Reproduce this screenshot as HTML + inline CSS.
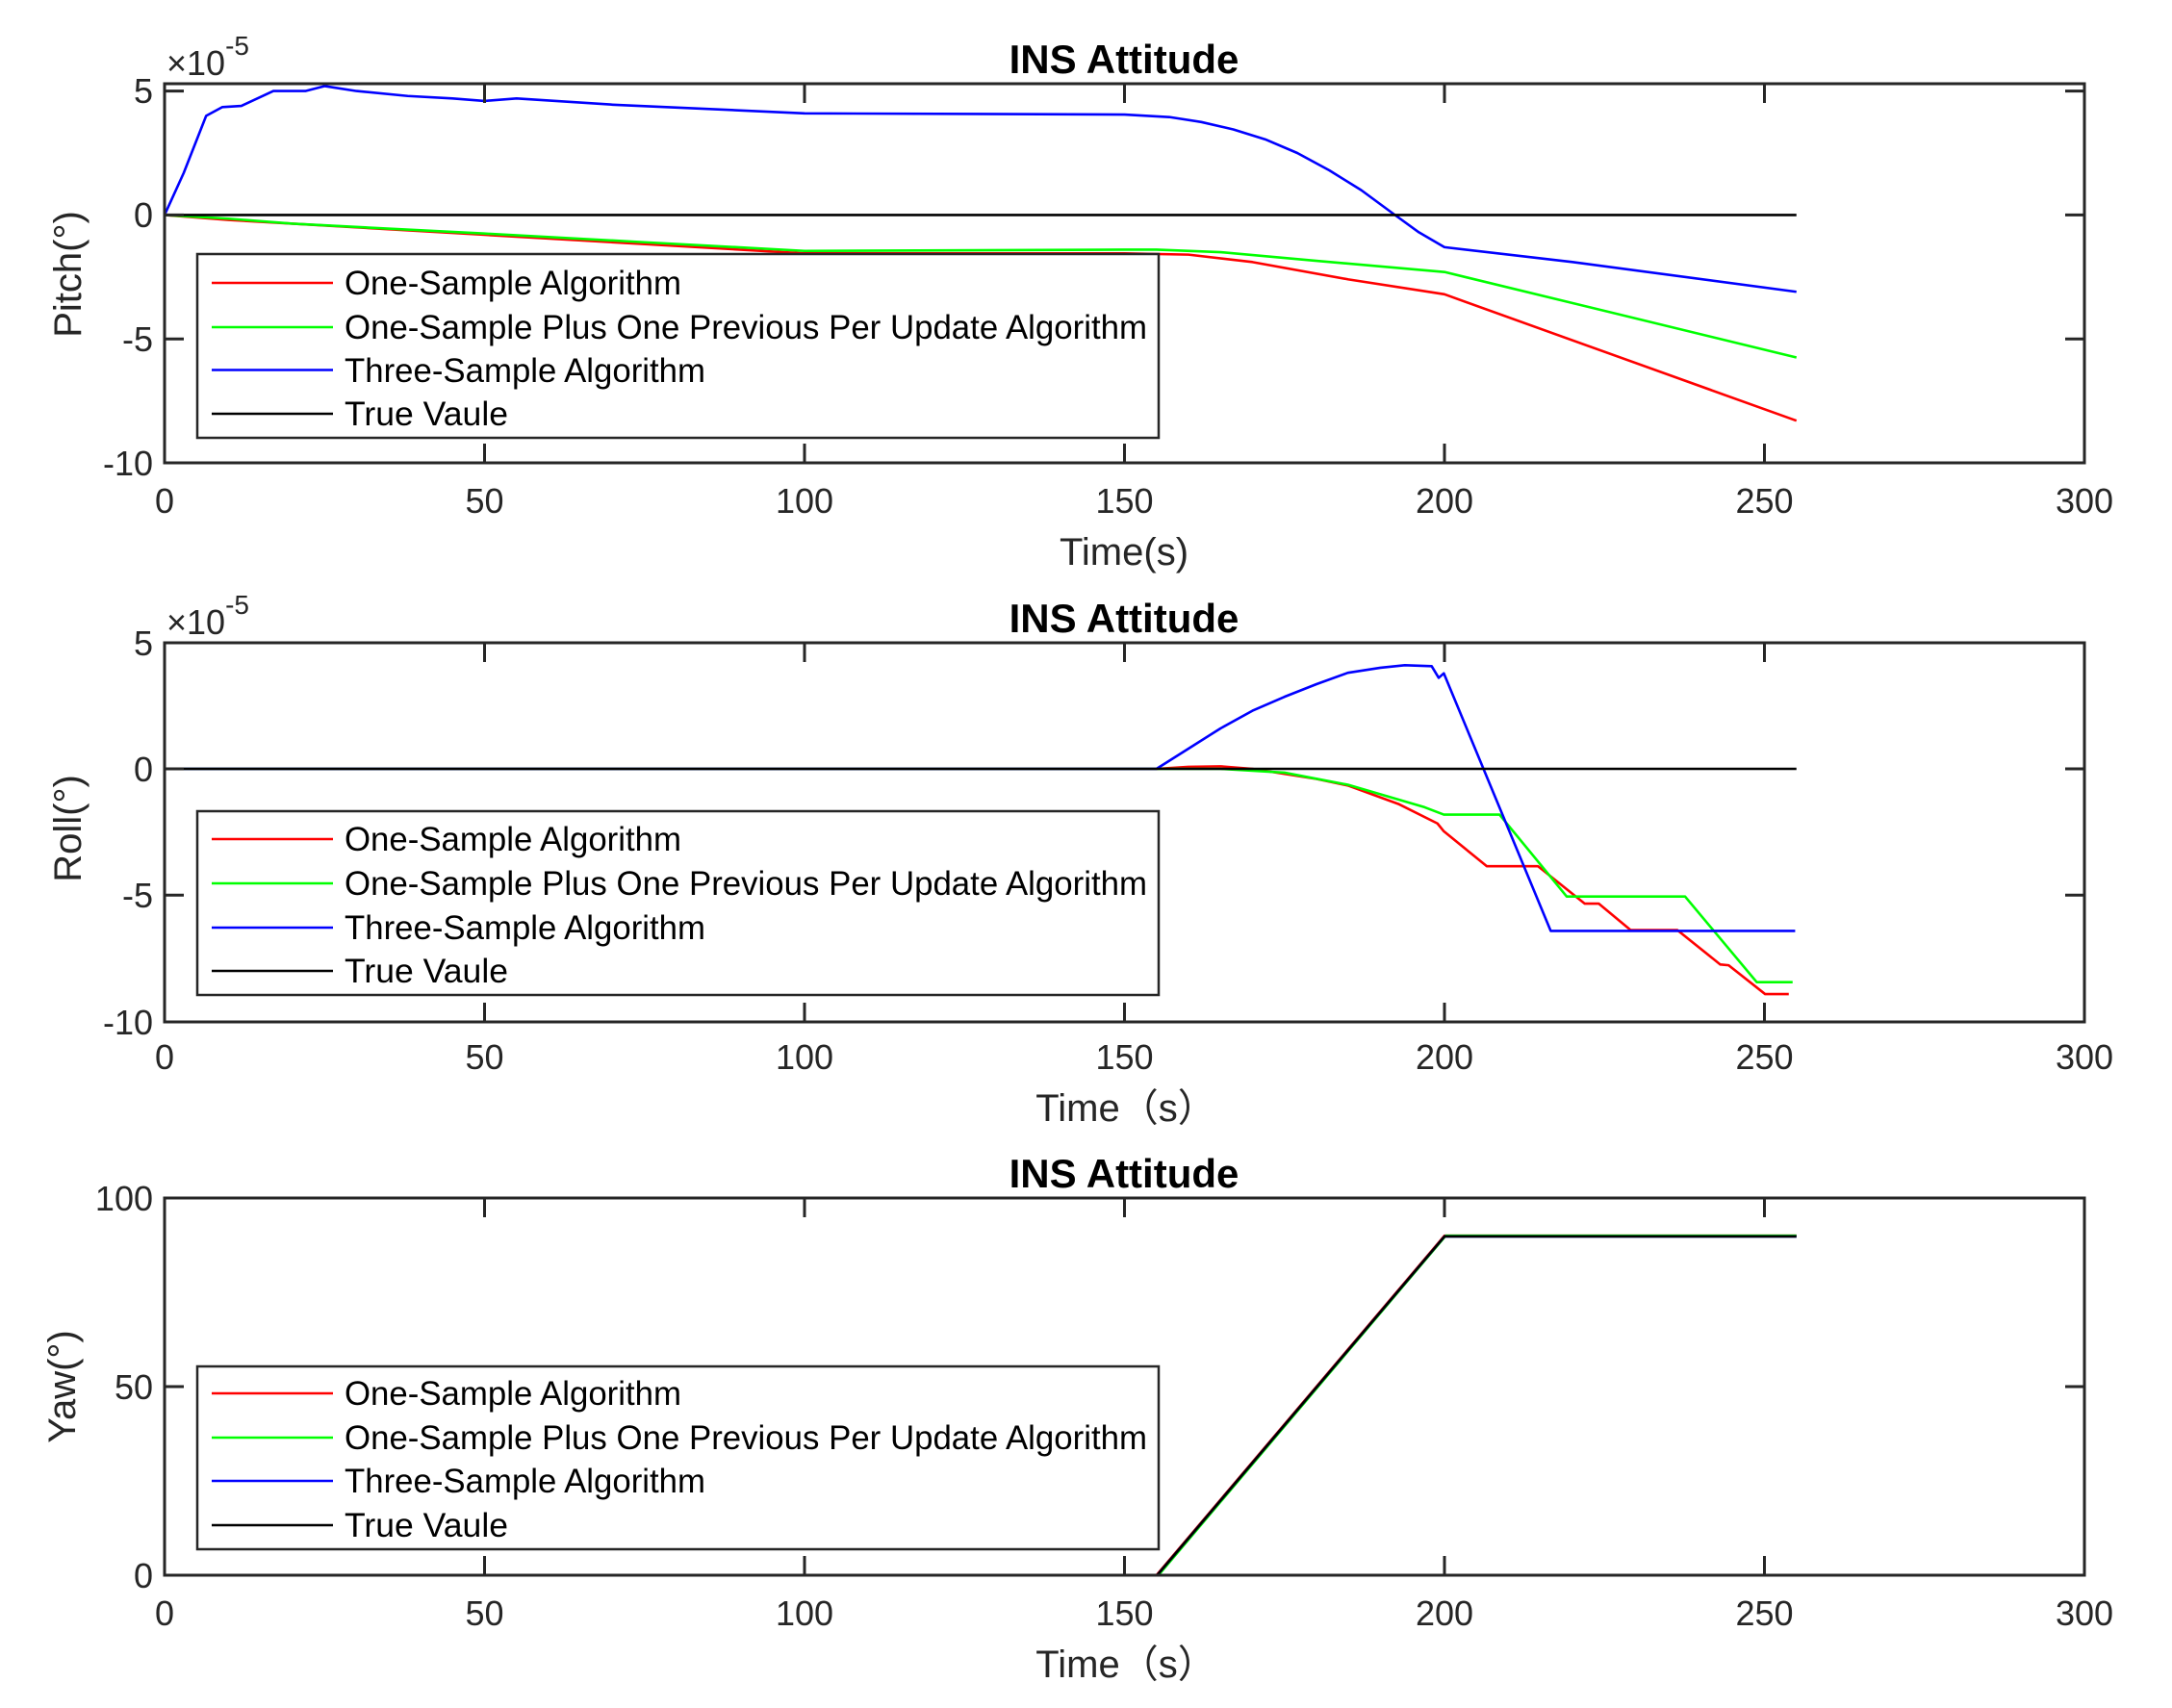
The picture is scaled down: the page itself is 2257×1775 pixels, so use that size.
<!DOCTYPE html>
<html><head><meta charset="utf-8"><style>
html,body{margin:0;padding:0;background:#fff;}
svg{display:block;}
text{font-family:"Liberation Sans","Noto Sans CJK SC",sans-serif;}
.tk{font-size:36px;fill:#262626;}
.lb{font-size:40px;fill:#262626;}
.tt{font-size:42px;font-weight:bold;fill:#000;}
.lg{font-size:35px;fill:#000;}
.ax{fill:none;stroke:#262626;stroke-width:3;}
.s{fill:none;stroke-width:2.6;vector-effect:non-scaling-stroke;stroke-linejoin:round;}
</style></head><body>
<svg width="2257" height="1775" viewBox="0 0 2257 1775" xmlns="http://www.w3.org/2000/svg">
<rect width="2257" height="1775" fill="#fff"/>

<!-- ===== Axes 1 (Pitch) ===== -->
<text class="tt" x="1168" y="76" text-anchor="middle">INS Attitude</text>
<g transform="translate(171,223.4) scale(6.65,-25.76)">
<polyline class="s" stroke="#ff0000" points="0,0 10,-0.2 50,-0.8 100,-1.55 150,-1.55 160,-1.6 170,-1.9 185,-2.6 200,-3.2 255,-8.3"/>
<polyline class="s" stroke="#00ff00" points="0,0 10,-0.15 20,-0.35 50,-0.75 75,-1.1 100,-1.45 150,-1.4 155,-1.4 165,-1.5 180,-1.85 200,-2.3 255,-5.75"/>
<polyline class="s" stroke="#0000ff" points="0,0 3,1.7 6.5,4 9,4.35 12,4.4 17,5 22,5 25,5.2 30,5 38,4.8 45,4.7 50,4.6 55,4.7 70,4.45 100,4.1 150,4.05 157,3.95 162,3.75 167,3.45 172,3.05 177,2.5 182,1.8 187,1.0 192,0.05 196,-0.7 200,-1.3 220,-1.9 255,-3.1"/>
<polyline class="s" stroke="#000" points="0,0 255,0"/>
</g>
<rect class="ax" x="171" y="87" width="1995" height="394"/>
<g stroke="#262626" stroke-width="3">
<path d="M171,94.6h20M171,223.4h20M171,352.2h20M2166,94.6h-20M2166,223.4h-20M2166,352.2h-20"/>
<path d="M503.5,481v-20M836,481v-20M1168.5,481v-20M1501,481v-20M1833.5,481v-20M503.5,87v20M836,87v20M1168.5,87v20M1501,87v20M1833.5,87v20"/>
</g>
<g class="tk" text-anchor="end"><text x="159" y="107">5</text><text x="159" y="236">0</text><text x="159" y="365">-5</text><text x="159" y="494">-10</text></g>
<g class="tk" text-anchor="middle"><text x="171" y="533">0</text><text x="503.5" y="533">50</text><text x="836" y="533">100</text><text x="1168.5" y="533">150</text><text x="1501" y="533">200</text><text x="1833.5" y="533">250</text><text x="2166" y="533">300</text></g>
<text class="lb" x="1168" y="587" text-anchor="middle">Time(s)</text>
<text class="lb" transform="translate(84,285) rotate(-90)" text-anchor="middle">Pitch(°)</text>
<text class="tk" x="173" y="78" font-size="39">×10<tspan font-size="28" dy="-21">-5</tspan></text>
<rect x="205" y="264" width="999" height="191" fill="#fff" stroke="#262626" stroke-width="2.5"/>
<path d="M220,294h126" stroke="#ff0000" stroke-width="2.6"/><path d="M220,340h126" stroke="#00ff00" stroke-width="2.6"/><path d="M220,384.5h126" stroke="#0000ff" stroke-width="2.6"/><path d="M220,430h126" stroke="#000" stroke-width="2.6"/>
<text class="lg" x="358" y="306" textLength="350" lengthAdjust="spacingAndGlyphs">One-Sample Algorithm</text>
<text class="lg" x="358" y="352" textLength="834" lengthAdjust="spacingAndGlyphs">One-Sample Plus One Previous Per Update Algorithm</text>
<text class="lg" x="358" y="397" textLength="375" lengthAdjust="spacingAndGlyphs">Three-Sample Algorithm</text>
<text class="lg" x="358" y="442" textLength="170" lengthAdjust="spacingAndGlyphs">True Vaule</text>

<!-- ===== Axes 2 (Roll) ===== -->
<text class="tt" x="1168" y="657" text-anchor="middle">INS Attitude</text>
<g transform="translate(171,799) scale(6.65,-26.27)">
<polyline class="s" stroke="#ff0000" points="0,0 155,0 160,0.08 165,0.1 170,0 175,-0.2 180,-0.4 184.9,-0.66 192.9,-1.4 198.9,-2.16 199.9,-2.47 206.6,-3.85 214.6,-3.85 221.9,-5.33 224.1,-5.33 229.1,-6.38 236.4,-6.38 243.1,-7.74 244.4,-7.77 250.1,-8.91 253.8,-8.91"/>
<polyline class="s" stroke="#00ff00" points="0,0 155,0 165,0 175,-0.15 184.9,-0.63 196.9,-1.52 199.9,-1.81 208.6,-1.81 219.1,-5.05 237.6,-5.05 248.8,-8.44 254.4,-8.44"/>
<polyline class="s" stroke="#0000ff" points="0,0 155,0 160,0.8 165,1.6 170,2.3 175,2.85 180,3.35 184.9,3.8 190,4.0 193.8,4.1 198,4.06 199.1,3.6 199.9,3.78 216.6,-6.41 254.8,-6.41"/>
<polyline class="s" stroke="#000" points="0,0 255,0"/>
</g>
<rect class="ax" x="171" y="668" width="1995" height="394"/>
<g stroke="#262626" stroke-width="3">
<path d="M171,930.3h20M2166,930.3h-20M171,799h20M2166,799h-20"/>
<path d="M503.5,1062v-20M836,1062v-20M1168.5,1062v-20M1501,1062v-20M1833.5,1062v-20M503.5,668v20M836,668v20M1168.5,668v20M1501,668v20M1833.5,668v20"/>
</g>
<g class="tk" text-anchor="end"><text x="159" y="681">5</text><text x="159" y="812">0</text><text x="159" y="943">-5</text><text x="159" y="1075">-10</text></g>
<g class="tk" text-anchor="middle"><text x="171" y="1111">0</text><text x="503.5" y="1111">50</text><text x="836" y="1111">100</text><text x="1168.5" y="1111">150</text><text x="1501" y="1111">200</text><text x="1833.5" y="1111">250</text><text x="2166" y="1111">300</text></g>
<text class="lb" x="1170" y="1165" text-anchor="middle">Time（s）</text>
<text class="lb" transform="translate(84,861) rotate(-90)" text-anchor="middle">Roll(°)</text>
<text class="tk" x="173" y="659" font-size="39">×10<tspan font-size="28" dy="-21">-5</tspan></text>
<rect x="205" y="843" width="999" height="191" fill="#fff" stroke="#262626" stroke-width="2.5"/>
<path d="M220,872h126" stroke="#ff0000" stroke-width="2.6"/><path d="M220,918h126" stroke="#00ff00" stroke-width="2.6"/><path d="M220,964h126" stroke="#0000ff" stroke-width="2.6"/><path d="M220,1009h126" stroke="#000" stroke-width="2.6"/>
<text class="lg" x="358" y="884" textLength="350" lengthAdjust="spacingAndGlyphs">One-Sample Algorithm</text>
<text class="lg" x="358" y="930" textLength="834" lengthAdjust="spacingAndGlyphs">One-Sample Plus One Previous Per Update Algorithm</text>
<text class="lg" x="358" y="976" textLength="375" lengthAdjust="spacingAndGlyphs">Three-Sample Algorithm</text>
<text class="lg" x="358" y="1021" textLength="170" lengthAdjust="spacingAndGlyphs">True Vaule</text>

<!-- ===== Axes 3 (Yaw) ===== -->
<text class="tt" x="1168" y="1234" text-anchor="middle">INS Attitude</text>
<g transform="translate(171,1637) scale(6.65,-3.92)">
<polyline class="s" stroke="#ff0000" points="0,0 155,0 200,90 255,90"/>
<polyline class="s" stroke="#00ff00" points="0,0 155.3,0 200.2,90 255,90"/>
<polyline class="s" stroke="#0000ff" points="0,0 155.1,0 200,89.8 255,89.8"/>
<polyline class="s" stroke="#000" points="0,0 155.1,0 200,89.8 255,89.8"/>
</g>
<rect class="ax" x="171" y="1245" width="1995" height="392"/>
<g stroke="#262626" stroke-width="3">
<path d="M171,1441h20M2166,1441h-20"/>
<path d="M503.5,1637v-20M836,1637v-20M1168.5,1637v-20M1501,1637v-20M1833.5,1637v-20M503.5,1245v20M836,1245v20M1168.5,1245v20M1501,1245v20M1833.5,1245v20"/>
</g>
<g class="tk" text-anchor="end"><text x="159" y="1258">100</text><text x="159" y="1454">50</text><text x="159" y="1650">0</text></g>
<g class="tk" text-anchor="middle"><text x="171" y="1689">0</text><text x="503.5" y="1689">50</text><text x="836" y="1689">100</text><text x="1168.5" y="1689">150</text><text x="1501" y="1689">200</text><text x="1833.5" y="1689">250</text><text x="2166" y="1689">300</text></g>
<text class="lb" x="1170" y="1743" text-anchor="middle">Time（s）</text>
<text class="lb" transform="translate(78,1441) rotate(-90)" text-anchor="middle">Yaw(°)</text>
<rect x="205" y="1420" width="999" height="190" fill="#fff" stroke="#262626" stroke-width="2.5"/>
<path d="M220,1448h126" stroke="#ff0000" stroke-width="2.6"/><path d="M220,1494h126" stroke="#00ff00" stroke-width="2.6"/><path d="M220,1539h126" stroke="#0000ff" stroke-width="2.6"/><path d="M220,1585h126" stroke="#000" stroke-width="2.6"/>
<text class="lg" x="358" y="1460" textLength="350" lengthAdjust="spacingAndGlyphs">One-Sample Algorithm</text>
<text class="lg" x="358" y="1506" textLength="834" lengthAdjust="spacingAndGlyphs">One-Sample Plus One Previous Per Update Algorithm</text>
<text class="lg" x="358" y="1551" textLength="375" lengthAdjust="spacingAndGlyphs">Three-Sample Algorithm</text>
<text class="lg" x="358" y="1597" textLength="170" lengthAdjust="spacingAndGlyphs">True Vaule</text>
</svg>
</body></html>
